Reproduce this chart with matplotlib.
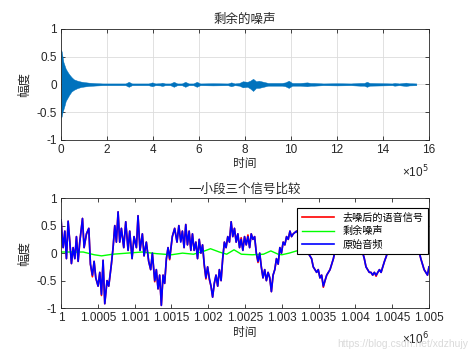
import numpy as np
import matplotlib.pyplot as plt

plt.rcParams['font.family'] = ['Liberation Sans', 'Noto Sans CJK SC', 'DejaVu Sans']
plt.rcParams['axes.unicode_minus'] = False

# ---- top: remaining noise, envelope ----
noise_t = [0, 3000, 6000, 10000, 15000, 20000, 27000, 35000, 45000, 55000, 70000,
           85000, 100000, 120000, 150000, 180000, 240000, 280000, 294000, 308000,
           380000, 396000, 410000, 430000, 440000, 452000, 475000, 490000, 505000,
           525000, 540000, 555000, 575000, 590000, 605000, 660000, 725000, 740000,
           755000, 775000, 790000, 810000, 822000, 835000, 848000, 860000, 880000,
           900000, 930000, 960000, 975000, 990000, 1005000, 1040000, 1070000,
           1085000, 1100000, 1140000, 1200000, 1260000, 1300000, 1318000, 1330000,
           1342000, 1400000, 1440000, 1450000, 1470000, 1500000, 1515000, 1545000]
noise_hi = [0.62, 0.58, 0.50, 0.40, 0.34, 0.28, 0.23, 0.18, 0.13, 0.09, 0.066,
            0.05, 0.04, 0.03, 0.022, 0.016, 0.016, 0.016, 0.045, 0.016,
            0.016, 0.035, 0.016, 0.02, 0.03, 0.016, 0.016, 0.045, 0.016,
            0.016, 0.045, 0.016, 0.016, 0.045, 0.016, 0.02, 0.016, 0.035,
            0.016, 0.025, 0.055, 0.045, 0.065, 0.10, 0.055, 0.065, 0.045,
            0.025, 0.025, 0.025, 0.035, 0.065, 0.025, 0.025, 0.035,
            0.025, 0.025, 0.016, 0.02, 0.016, 0.025, 0.025, 0.045,
            0.025, 0.02, 0.016, 0.025, 0.016, 0.03, 0.02, 0.016]
noise_lo = [-0.60, -0.57, -0.50, -0.45, -0.38, -0.30, -0.25, -0.19, -0.13, -0.10, -0.07,
            -0.05, -0.04, -0.03, -0.022, -0.016, -0.016, -0.016, -0.045, -0.016,
            -0.016, -0.035, -0.016, -0.02, -0.03, -0.016, -0.016, -0.045, -0.016,
            -0.016, -0.045, -0.016, -0.016, -0.045, -0.016, -0.02, -0.016, -0.035,
            -0.016, -0.025, -0.055, -0.045, -0.075, -0.12, -0.065, -0.065, -0.045,
            -0.025, -0.025, -0.025, -0.035, -0.065, -0.025, -0.025, -0.035,
            -0.025, -0.025, -0.016, -0.02, -0.016, -0.025, -0.025, -0.045,
            -0.025, -0.02, -0.016, -0.025, -0.016, -0.03, -0.02, -0.016]

# ---- bottom: short segment, samples offset from 1e6 ----
seg_start = 1000000
seg_t = [0, 14, 27, 50, 72, 95, 118, 140, 163, 186, 208, 231, 253, 290, 312, 344,
         376, 398, 425, 448, 471, 502, 525, 548, 570, 593, 624, 647, 683, 706, 729,
         751, 774, 796, 819, 851, 878, 910, 932, 964, 991, 1023, 1045, 1072, 1104,
         1127, 1158, 1190, 1217, 1240, 1272, 1294, 1317, 1339, 1362, 1385, 1407,
         1430, 1453, 1475, 1511, 1543, 1575, 1600, 1626, 1648, 1671, 1694, 1717,
         1740, 1763, 1785, 1808, 1831, 1854, 1877, 1900, 1922, 1945, 1968, 1991,
         2014, 2037, 2059, 2082, 2105, 2128, 2151, 2174, 2196, 2219, 2242, 2265,
         2288, 2311, 2333, 2356, 2379, 2402, 2425, 2447, 2470, 2493, 2516, 2539,
         2562, 2584, 2607, 2630, 2653, 2676, 2699, 2721, 2744, 2767, 2790, 2813,
         2836, 2858, 2881, 2904, 2927, 2950, 2973, 2995, 3018, 3041, 3064, 3087,
         3110, 3132, 3155, 3200, 3250, 3300, 3358, 3404, 3427, 3450, 3473, 3495,
         3518, 3541, 3564, 3587, 3610, 3632, 3655, 3678, 3701, 3724, 3800, 3900,
         4000, 4080, 4121, 4144, 4167, 4189, 4212, 4235, 4258, 4281, 4304, 4327,
         4349, 4372, 4395, 4422, 4441, 4550, 4650, 4750, 4852, 4889, 4911, 4934,
         4957, 4980, 5000]
original = [0.60, 0.30, 0.10, 0.40, -0.10, 0.58, 0.20, -0.19, 0.10, -0.10, 0.30, -0.15,
            0.20, 0.63, 0.10, 0.35, 0.45, -0.20, -0.40, -0.15, -0.45, -0.60, -0.35,
            -0.75, -0.13, -0.92, -0.50, -0.60, -0.20, 0.10, 0.50, 0.20, 0.75, 0.20,
            0.45, 0.10, 0.57, 0.05, 0.40, -0.10, 0.30, 0.10, 0.68, 0.05, 0.35, -0.05,
            0.20, -0.15, -0.30, 0.00, -0.50, -0.30, -0.65, -0.40, -0.95, -0.40, -0.55,
            -0.10, 0.10, -0.10, 0.30, 0.45, 0.20, 0.50, 0.20, 0.40, 0.10, 0.52, 0.15,
            0.40, 0.05, 0.35, 0.05, 0.20, -0.10, 0.25, 0.00, 0.15, -0.20, -0.45, -0.25,
            -0.45, -0.60, -0.80, -0.55, -0.40, -0.60, -0.30, -0.50, -0.10, 0.20, 0.10,
            0.30, 0.20, 0.57, 0.30, 0.45, 0.20, 0.35, 0.10, 0.25, 0.05, 0.30, 0.15,
            0.30, 0.10, 0.35, 0.25, 0.30, 0.00, -0.15, 0.00, -0.25, -0.45, -0.30,
            -0.50, -0.35, -0.45, -0.70, -0.40, -0.30, -0.10, -0.20, 0.10, 0.00, 0.20,
            0.15, 0.30, 0.25, 0.40, 0.30, 0.35, 0.40, 0.30, 0.20, 0.00, -0.10, -0.25,
            -0.30, -0.35, -0.30, -0.45, -0.40, -0.60, -0.50, -0.40, -0.35, -0.30,
            -0.20, -0.10, 0.05, 0.25, 0.35, 0.30, 0.10, -0.10, -0.25, -0.30, -0.35,
            -0.35, -0.40, -0.35, -0.40, -0.35, -0.30, -0.35, -0.25, -0.15, -0.05,
            0.05, 0.30, 0.35, 0.25, 0.10, -0.10, -0.20, -0.30, -0.35, -0.40, -0.25]
denoised = [0.60, 0.30, 0.10, 0.40, -0.10, 0.58, 0.20, -0.19, 0.10, -0.10, 0.30, -0.15,
            0.20, 0.63, 0.10, 0.35, 0.45, -0.20, -0.43, -0.15, -0.45, -0.60, -0.35,
            -0.77, -0.13, -0.92, -0.50, -0.60, -0.20, 0.10, 0.50, 0.20, 0.75, 0.20,
            0.45, 0.10, 0.57, 0.05, 0.40, -0.10, 0.30, 0.10, 0.68, 0.05, 0.35, -0.05,
            0.20, -0.15, -0.30, 0.00, -0.52, -0.30, -0.65, -0.40, -0.95, -0.40, -0.55,
            -0.12, 0.10, -0.12, 0.30, 0.45, 0.20, 0.50, 0.22, 0.40, 0.10, 0.52, 0.15,
            0.40, 0.05, 0.35, 0.05, 0.20, -0.10, 0.25, 0.00, 0.15, -0.22, -0.47, -0.25,
            -0.48, -0.60, -0.80, -0.55, -0.40, -0.60, -0.30, -0.50, -0.10, 0.20, 0.10,
            0.30, 0.20, 0.57, 0.30, 0.45, 0.20, 0.35, 0.10, 0.28, 0.05, 0.30, 0.15,
            0.33, 0.10, 0.35, 0.25, 0.30, 0.00, -0.17, 0.00, -0.25, -0.45, -0.30,
            -0.50, -0.35, -0.45, -0.70, -0.40, -0.30, -0.10, -0.20, 0.10, 0.00, 0.20,
            0.15, 0.30, 0.25, 0.40, 0.30, 0.35, 0.40, 0.30, 0.20, 0.00, -0.10, -0.25,
            -0.30, -0.35, -0.30, -0.45, -0.40, -0.62, -0.50, -0.40, -0.35, -0.30,
            -0.20, -0.10, 0.05, 0.25, 0.35, 0.30, 0.10, -0.10, -0.25, -0.30, -0.35,
            -0.35, -0.40, -0.35, -0.42, -0.35, -0.30, -0.35, -0.25, -0.15, -0.05,
            0.05, 0.30, 0.35, 0.25, 0.10, -0.10, -0.20, -0.30, -0.35, -0.40, -0.25]
resid_t = [0, 300, 450, 550, 700, 900, 1100, 1300, 1500, 1650, 1800, 1950, 2030,
           2150, 2250, 2350, 2450, 2600, 2750, 2850, 2950, 3000, 3100, 3200, 3300,
           3400, 3600, 3800, 4000, 4200, 4400, 4600, 4800, 4900, 5000]
resid = [0.02, 0.02, -0.03, -0.05, -0.02, 0.00, 0.02, -0.01, -0.03, 0.00, -0.02,
         0.04, 0.08, 0.02, -0.02, 0.06, -0.02, -0.03, -0.02, 0.04, -0.02, -0.03,
         0.00, 0.04, 0.02, -0.02, -0.01, 0.00, -0.02, -0.02, 0.00, 0.01, 0.00,
         0.02, 0.00]

top_ticks = [0, 2, 4, 6, 8, 10, 12, 14, 16]
seg_ticks = ['1', '1.0005', '1.001', '1.0015', '1.002', '1.0025', '1.003',
             '1.0035', '1.004', '1.0045', '1.005']

ink = '#262626'
cjk = ['Noto Sans CJK SC', 'DejaVu Sans']

fig = plt.figure(figsize=(4.74, 3.55), dpi=100)
ax1 = fig.add_axes([0.129, 0.606, 0.776, 0.313])
ax2 = fig.add_axes([0.129, 0.132, 0.776, 0.310])

ax1.fill_between(noise_t, noise_lo, noise_hi, color='#0072BD', lw=0.3, edgecolor='#0072BD')
ax1.set_xlim(0, 1.6e6)
ax1.set_ylim(-1, 1)
ax1.set_xticks([v * 1e5 for v in top_ticks])
ax1.set_xticklabels([str(v) for v in top_ticks])
ax1.set_yticks([-1, -0.5, 0, 0.5, 1])
ax1.set_yticklabels(['-1', '-0.5', '0', '0.5', '1'])
ax1.grid(True, color='#dcdcdc', lw=0.6)
ax1.set_axisbelow(True)
ax1.set_title('剩余的噪声', family=cjk, fontsize=9, color=ink, pad=4)
ax1.set_xlabel('时间', family=cjk, fontsize=8.5, color=ink, labelpad=1)
ax1.set_ylabel('幅度', family=cjk, fontsize=9, color=ink, labelpad=4)
ax1.text(1.0, -0.29, '×10$^5$', transform=ax1.transAxes, ha='right', va='center',
         fontsize=8.5, color=ink)

seg_x = [seg_start + t for t in seg_t]
ax2.plot(seg_x, denoised, color='r', lw=1.2, label='去噪后的语音信号')
ax2.plot([seg_start + t for t in resid_t], resid, color='#00ff00', lw=1.0, label='剩余噪声')
ax2.plot(seg_x, original, color='b', lw=1.2, label='原始音频')
ax2.set_xlim(seg_start, seg_start + 5000)
ax2.set_ylim(-1, 1)
ax2.set_xticks([seg_start + 500 * i for i in range(len(seg_ticks))])
ax2.set_xticklabels(seg_ticks)
ax2.set_yticks([-1, -0.5, 0, 0.5, 1])
ax2.set_yticklabels(['-1', '-0.5', '0', '0.5', '1'])
ax2.set_title('一小段三个信号比较', family=cjk, fontsize=9, color=ink, pad=4)
ax2.set_xlabel('时间', family=cjk, fontsize=8.5, color=ink, labelpad=1)
ax2.set_ylabel('幅度', family=cjk, fontsize=9, color=ink, labelpad=4)
ax2.text(1.0, -0.28, '×10$^6$', transform=ax2.transAxes, ha='right', va='center',
         fontsize=8.5, color=ink)
leg = ax2.legend(loc='upper right', bbox_to_anchor=(0.997, 0.91), borderaxespad=0,
                 prop={'family': cjk, 'size': 7.3}, fancybox=False,
                 framealpha=1, edgecolor='black', handlelength=3.2, labelspacing=0.35,
                 borderpad=0.45)
leg.get_frame().set_linewidth(0.8)
leg.set_zorder(5)

for ax in (ax1, ax2):
    ax.tick_params(direction='in', length=3, width=0.6, top=True, right=True,
                   labelsize=8.5, colors=ink, pad=3)
    for s in ax.spines.values():
        s.set_color(ink)
        s.set_linewidth(0.6)

fig.text(0.988, 0.032, 'https://blog.csdn.net/xdzhujy', ha='right', va='center',
         fontsize=7.5, color='#dadada')

fig.savefig('out.png', dpi=100)
